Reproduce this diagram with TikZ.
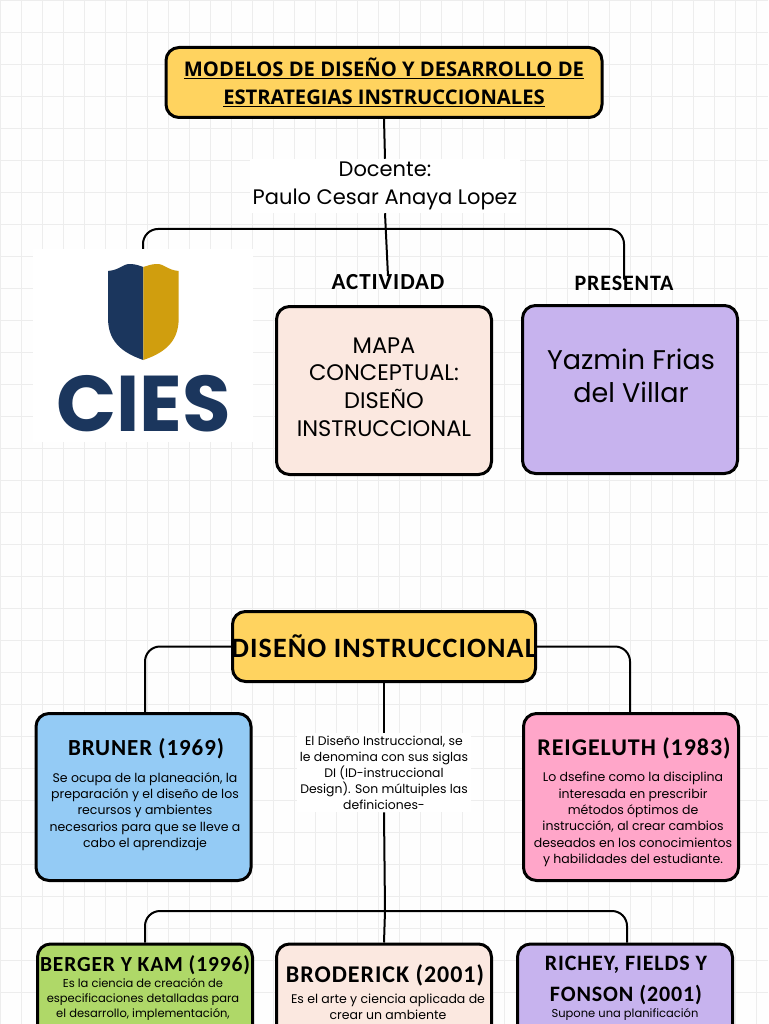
\documentclass[tikz,border=0pt]{standalone}
\usepackage{fontspec}
\setmainfont{Poppins}
\newfontfamily\titlefont{Open Sans}
\newfontfamily\handfont[LetterSpace=4]{Carlito}
\definecolor{yellowbox}{HTML}{FFD35F}
\definecolor{peachbox}{HTML}{FBE8E0}
\definecolor{lilacbox}{HTML}{C7B3EE}
\definecolor{bluebox}{HTML}{94CBF5}
\definecolor{pinkbox}{HTML}{FFA6C9}
\definecolor{greenbox}{HTML}{AFD868}
\definecolor{navylogo}{HTML}{1B365D}
\definecolor{goldlogo}{HTML}{D09E0E}
\tikzset{
  card/.style={draw=black,line width=3pt,rounded corners=13pt,minimum width=215pt},
  link/.style={draw=black,line width=2pt,rounded corners=15pt},
  hand/.style={font=\fontsize{#1}{#1}\handfont\bfseries,inner sep=0pt},
  body/.style={font=\fontsize{12.5}{16.4}\selectfont,align=center,inner sep=0pt},
}
\begin{document}
\begin{tikzpicture}[x=1pt,y=-1pt]
  \useasboundingbox (0,0) rectangle (768,1024);
  \clip (0,0) rectangle (768,1024);
  \fill[white!99!gray] (0,0) rectangle (768,1024);
  \draw[gray!14,line width=.6pt,xstep=21pt,ystep=32pt] (0,0) grid (768,1024);
  % first block
  \node[card,fill=yellowbox,minimum width=436pt,minimum height=70pt,align=center,font=\fontsize{20.2}{28}\titlefont\bfseries] (modelos) at (384,82.5) {\underline{MODELOS DE DISEÑO Y DESARROLLO DE}\\\underline{ESTRATEGIAS INSTRUCCIONALES}};
  \node[fill=white,align=center,inner sep=3pt,font=\fontsize{21}{28}\selectfont] (docente) at (385,186) {Docente:\\Paulo Cesar Anaya Lopez};
  \coordinate (busa) at (386,229);
  \node[fill=white,minimum width=220pt,minimum height=193pt] (logo) at (143,345.5) {};
  \node[hand=23] (actividad) at (388,282) {ACTIVIDAD};
  \node[hand=22] (presenta) at (624,283) {PRESENTA};
  \draw[link] (modelos.south) -- (docente.north);
  \draw[link] (docente.south) -- ([yshift=-2pt]actividad.north);
  \draw[link] (logo.north) |- (busa) -| ([yshift=-4pt]presenta.north);
  \fill[navylogo] (143.3,360) .. controls (120,352) and (108,340) .. (108,318) -- (108,271) .. controls (120,270) and (122,264) .. (130,264) .. controls (136,264) and (140,266) .. (143.3,267) -- cycle;
  \fill[goldlogo] (143.3,360) .. controls (167,352) and (178.7,340) .. (178.7,318) -- (178.7,271) .. controls (167,270) and (165,264) .. (157,264) .. controls (151,264) and (147,266) .. (143.3,267) -- cycle;
  \node[text=navylogo,inner sep=0pt,font=\fontsize{79}{79}\selectfont\bfseries] (cies) at (143.5,404) {CIES};
  \node[card,fill=peachbox,minimum height=168pt,align=center] (mapa) at (384,390.5) {};
  \node[align=center,font=\fontsize{22.5}{27.6}\selectfont] (mapatext) at (384,387) {MAPA\\CONCEPTUAL:\\DISEÑO\\INSTRUCCIONAL};
  \node[card,fill=lilacbox,minimum height=168pt,align=center] (yazmin) at (630,389.5) {};
  \node[align=center,font=\fontsize{27}{33}\selectfont] (yazmintext) at (631,376) {Yazmin Frias\\del Villar};
  % second block
  \node[card,fill=yellowbox,minimum width=303pt,minimum height=70pt] (diseno) at (384,646.5) {};
  \node[hand=28] (disenotext) at (384,646) {DISEÑO INSTRUCCIONAL};
  \node[card,fill=bluebox,minimum height=167pt] (bruner) at (143.5,797) {};
  \node[hand=23] (brunertitle) at (146,748.5) {BRUNER (1969)};
  \node[body] (brunertext) at (145,811.5) {Se ocupa de la planeación, la\\preparación y el diseño de los\\recursos y ambientes\\necesarios para que se lleve a\\cabo el aprendizaje};
  \node[card,fill=pinkbox,minimum height=167pt] (reigeluth) at (631,797) {};
  \node[hand=24] (reigeluthtitle) at (634,748) {REIGELUTH (1983)};
  \node[body] (reigeluthtext) at (633,819.5) {Lo dsefine como la disciplina\\interesada en prescribir\\métodos óptimos de\\instrucción, al crear cambios\\deseados en los conocimientos\\y habilidades del estudiante.};
  \node[body,fill=white,font=\fontsize{12.4}{16}\selectfont,inner sep=3pt] (centro) at (384,772.5) {El Diseño Instruccional, se\\le denomina con sus siglas\\DI (ID-instruccional\\Design). Son múltuiples las\\definiciones-};
  \coordinate (busb) at (385,911);
  \node[card,fill=greenbox,minimum height=160pt] (berger) at (145,1024) {};
  \node[card,fill=peachbox,minimum height=160pt] (broderick) at (384,1024) {};
  \node[card,fill=lilacbox,minimum height=160pt] (richey) at (625,1024) {};
  \draw[link] (diseno.west) -| ([xshift=1.5pt]bruner.north);
  \draw[link] (diseno.east) -| ([xshift=-1pt]reigeluth.north);
  \draw[link] (diseno.south) -- (centro.north);
  \draw[link] (centro.south) -- (busb);
  \draw[link] (berger.north) |- (busb) -| ([xshift=2pt]richey.north);
  \draw[link] (busb) -- (broderick.north);
  \node[hand=21.5] (bergertitle) at (145,965) {BERGER Y KAM (1996)};
  \node[body,font=\fontsize{11.5}{15}\selectfont] (bergertext) at (143,999) {Es la ciencia de creación de\\especificaciones detalladas para\\el desarrollo, implementación,};
  \node[hand=24] (brodericktitle) at (385,975) {BRODERICK (2001)};
  \node[body,font=\fontsize{12.5}{16}\selectfont] (brodericktext) at (388,1007) {Es el arte y ciencia aplicada de\\crear un ambiente};
  \node[hand=22,align=center,font=\fontsize{22}{31}\handfont\bfseries] (richeytitle) at (626,980.5) {RICHEY, FIELDS Y\\FONSON (2001)};
  \node[body,font=\fontsize{11.5}{16}\selectfont] (richeytext) at (625,1014) {Supone una planificación};
\end{tikzpicture}
\end{document}
